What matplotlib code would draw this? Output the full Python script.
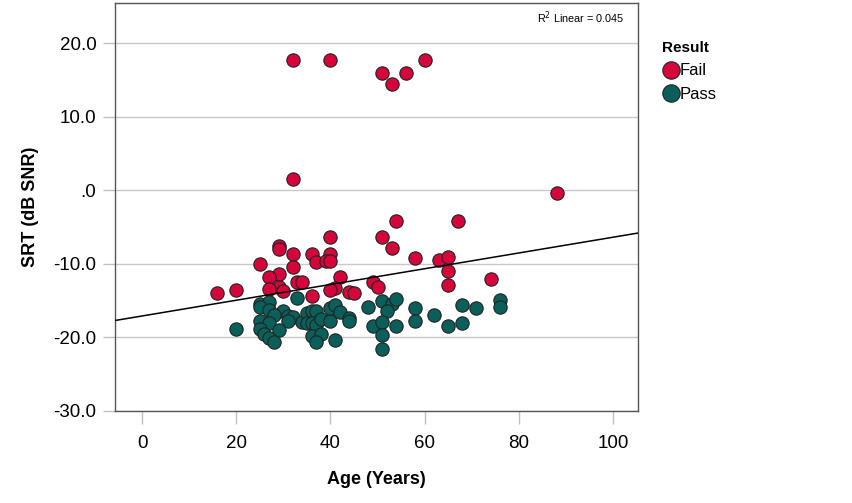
import numpy as np
import matplotlib
matplotlib.use("Agg")
import matplotlib.pyplot as plt
from matplotlib.lines import Line2D

plt.rcParams['font.family'] = ['Liberation Sans', 'DejaVu Sans']

# ---- data ----
fail_age = [32, 40, 51, 53, 56, 60, 32, 88, 40, 54, 67, 51, 53, 58, 63, 65, 65, 65,
            74, 49, 50, 29, 29, 32, 36, 40, 37, 39, 40, 25, 32, 29, 27, 42, 33, 34,
            29, 27, 30, 41, 40, 36, 44, 45, 16, 20]
fail_srt = [17.7, 17.7, 16.0, 14.5, 16.0, 17.7, 1.6, -0.4, -6.3, -4.2, -4.2, -6.4,
            -7.8, -9.2, -9.4, -9.0, -10.9, -12.9, -12.0, -12.5, -13.2, -7.6, -8.0,
            -8.6, -8.6, -8.7, -9.8, -9.6, -9.6, -10.0, -10.4, -11.3, -11.8, -11.8,
            -12.4, -12.4, -13.1, -13.4, -13.7, -13.3, -13.6, -14.4, -13.8, -14.0,
            -14.0, -13.6]

pass_age = [48, 51, 53, 54, 52, 49, 51, 51, 51, 54, 58, 58, 62, 65, 68, 68, 71, 76,
            76, 33, 25, 27, 25, 27, 30, 28, 31, 32, 31, 25, 27, 25, 29, 26, 27, 28,
            20, 34, 35, 36, 37, 35, 36, 37, 38, 40, 40, 41, 42, 44, 44, 36, 38, 37,
            41]
pass_srt = [-15.8, -15.0, -15.4, -14.8, -16.4, -18.4, -17.9, -19.7, -21.6, -18.5,
            -16.0, -17.7, -17.0, -18.5, -15.6, -18.1, -16.0, -14.9, -15.8, -14.6,
            -15.4, -15.2, -15.8, -16.3, -16.4, -17.0, -17.1, -17.2, -17.8, -17.8,
            -18.1, -18.9, -19.0, -19.5, -20.1, -20.6, -18.8, -17.9, -16.7, -16.4,
            -16.4, -18.1, -18.0, -18.3, -17.5, -17.8, -16.0, -15.6, -16.6, -17.4,
            -17.8, -19.8, -19.5, -20.6, -20.4]

groups = ['Fail', 'Pass']
colors = ['#d5053b', '#0a5f5b']
r2_text = r'R$^2$ Linear = 0.045'

x_ticks = [0, 20, 40, 60, 80, 100]
y_ticks = [20, 10, 0, -10, -20, -30]
y_tick_labels = ['20.0', '10.0', '.0', '-10.0', '-20.0', '-30.0']

# ---- figure ----
fig = plt.figure(figsize=(8.53, 5.03), dpi=100)
ax = fig.add_axes([0.135, 0.183, 0.613, 0.811])

xlim = (-5.7, 105.3)
ylim = (-30, 25.5)
ax.set_xlim(*xlim)
ax.set_ylim(*ylim)

for yv in y_ticks:
    ax.axhline(yv, color='#c8c8c8', lw=1.0, zorder=0)

ax.scatter(fail_age, fail_srt, s=92, c=colors[0], edgecolors='#222222',
           linewidths=0.8, zorder=3)
ax.scatter(pass_age, pass_srt, s=92, c=colors[1], edgecolors='#222222',
           linewidths=0.8, zorder=3)

# regression line on all data
all_age = np.array(fail_age + pass_age, dtype=float)
all_srt = np.array(fail_srt + pass_srt, dtype=float)
slope, intercept = np.polyfit(all_age, all_srt, 1)
xx = np.array(xlim)
ax.plot(xx, intercept + slope * xx, color='black', lw=1.1, zorder=4)

ax.text(0.975, 0.965, r2_text, transform=ax.transAxes, ha='right', va='center',
        fontsize=7.8)

ax.set_xticks(x_ticks)
ax.set_yticks(y_ticks)
ax.set_yticklabels(y_tick_labels)
ax.tick_params(axis='both', labelsize=13.5, length=9, width=1, color='#c0c0c0',
               direction='out')
ax.tick_params(axis='y', pad=4.5)
ax.tick_params(axis='x', pad=8)
for sp in ax.spines.values():
    sp.set_color('#555555')
    sp.set_linewidth(1.0)

ax.set_xlabel('Age (Years)', fontsize=13, fontweight='bold', labelpad=14)
ax.set_ylabel('SRT (dB SNR)', fontsize=13, fontweight='bold', labelpad=10)

handles = [Line2D([], [], marker='o', ls='', markersize=12.5, markerfacecolor=c,
                  markeredgecolor='#222222', markeredgewidth=0.8) for c in colors]
leg = fig.legend(handles, groups, loc='upper left', bbox_to_anchor=(0.758, 0.948),
                 frameon=False, title='Result', fontsize=12, handletextpad=0.0,
                 labelspacing=0.5, handlelength=1.1, alignment='left',
                 title_fontproperties={'weight': 'bold', 'size': 11})

fig.savefig('out.png', dpi=100)
